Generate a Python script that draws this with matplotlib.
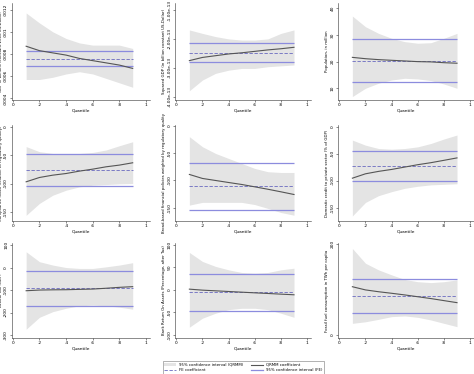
import numpy as np
import matplotlib
matplotlib.use("Agg")
import matplotlib.pyplot as plt
from matplotlib.patches import Patch
from matplotlib.lines import Line2D

# quantiles at which the QRMM model was estimated
quantiles = [0.1, 0.2, 0.3, 0.4, 0.5, 0.6, 0.7, 0.8, 0.9]

ylabels = [
    "GDP in billions (constant 2010 US-Dollar)",
    "Squared GDP (in billion constant US-Dollar)",
    "Population, in million",
    "Compliance index (relative to regulatory quality)",
    "Broad-based financial policies weighted by regulatory quality",
    "Domestic credit to private sector (% of GDP)",
    "Labour tax (GDP)",
    "Bank Return On Assets (Percentage, after Tax)",
    "Fossil fuel consumption in TWh per capita",
]

# QRMM coefficient and 95% band
qr_coef = [
    [.00087, .00083, .00081, .00079, .00076, .00074, .00072, .00070, .00067],
    [-2.75e-13, -2.64e-13, -2.58e-13, -2.52e-13, -2.48e-13, -2.43e-13, -2.38e-13, -2.34e-13, -2.29e-13],
    [21.6, 21.1, 20.75, 20.5, 20.25, 20.0, 19.9, 19.6, 19.4],
    [-97, -89.4, -85.3, -82.4, -78.2, -74.7, -70.6, -67.6, -63.5],
    [-89, -96.3, -100, -103.7, -107.3, -111.6, -116, -120.7, -125.6],
    [-95.6, -87.5, -83, -79.4, -75, -70.6, -66.9, -62.5, -58],
    [-103, -100, -99, -98.5, -97, -95.6, -92, -88, -85],
    [1.5, -0.7, -2.2, -3.7, -5.2, -6.7, -8.1, -9.6, -11],
    [106, 99, 95, 91.6, 88, 84, 80, 75.5, 71],
]
qr_hi = [
    [.00117, .00108, .00100, .00094, .00090, .00088, .00088, .00088, .00085],
    [-1.69e-13, -1.81e-13, -1.92e-13, -2.0e-13, -2.04e-13, -2.04e-13, -2.0e-13, -1.81e-13, -1.69e-13],
    [37.1, 33.1, 30.6, 28.75, 27.5, 26.9, 27.1, 28.75, 30.6],
    [-35, -44, -47, -47, -47, -45.3, -41, -33.5, -26.5],
    [-20, -38.4, -50.6, -59.8, -68.9, -78, -84, -85.4, -85.4],
    [-25, -34.4, -40.6, -41.9, -40.6, -37.5, -31.3, -23, -15.6],
    [70, 25.9, 11, 0, -4, -4, 3, 11, 21.5],
    [83, 63, 52, 44.4, 38.5, 37, 38.5, 44.4, 48],
    [190, 157.5, 143, 132, 122, 117, 115, 117, 121],
]
qr_lo = [
    [.00057, .00057, .00059, .00062, .00064, .00062, .00058, .00054, .00050],
    [-3.79e-13, -3.42e-13, -3.19e-13, -3.08e-13, -3.02e-13, -3.02e-13, -2.96e-13, -2.93e-13, -2.90e-13],
    [6.9, 10, 11.9, 13.1, 13.75, 13.5, 12.9, 11.6, 10],
    [-156, -135, -120.6, -111.8, -105.9, -103, -101.8, -100.6, -100],
    [-145, -140, -140, -140, -140, -144, -151, -158.5, -163.4],
    [-165.6, -140.6, -128, -120.6, -114.4, -110.6, -108, -107, -106],
    [-274, -221, -196, -181, -170, -167, -170, -176, -185],
    [-83, -63, -52, -44, -41, -41, -44, -52, -61],
    [25.6, 29, 34.4, 40.3, 41.8, 38.8, 33, 25.6, 18.3],
]

# fixed-effects coefficient and 95% interval
fe_coef = [.000753, -2.48e-13, 20.25, -76.5, -110.4, -73.75, -92.6, -4.4, 85.7]
fe_hi = [.00083, -2.13e-13, 28.4, -48.8, -67.7, -45.6, -14, 35.6, 122]
fe_lo = [.00069, -2.81e-13, 12.25, -104.7, -153.7, -100, -170, -46, 47.6]

yticks = [
    [.0004, .0006, .0008, .001, .0012],
    [-4e-13, -3e-13, -2e-13, -1e-13],
    [10, 20, 30, 40],
    [-150, -100, -50, 0],
    [-150, -100, -50, 0],
    [-150, -100, -50, 0],
    [-300, -200, -100, 0, 100],
    [-100, -50, 0, 50, 100],
    [0, 200],
]
yticklabels = [
    [".0004", ".0006", ".0008", ".001", ".0012"],
    ["-4.00e-13", "-3.00e-13", "-2.00e-13", "-1.00e-13"],
    ["10", "20", "30", "40"],
    ["-150", "-100", "-50", "0"],
    ["-150", "-100", "-50", "0"],
    ["-150", "-100", "-50", "0"],
    ["-300", "-200", "-100", "0", "100"],
    ["-100", "-50", "0", "50", "100"],
    ["0", "200"],
]
ylims = [
    (.000385, .00126), (-4.11e-13, -0.76e-13), (5.6, 42),
    (-166, 3), (-174, 1.3), (-175, 3),
    (-313, 109), (-107, 104), (-6.6, 202),
]

W, H = 474, 374
fig = plt.figure(figsize=(W / 100, H / 100), dpi=100)

col_x = [(11.5, 150), (175, 311), (338, 474)]
row_y = [(3, 100), (125, 221), (243, 338)]

band_col = "#e4e4e4"
qr_col = "#555555"
fe_col = "#6a6ac0"
fe_ci_col = "#8c8cde"
fs = 3.2

for i in range(9):
    r, c = divmod(i, 3)
    x0, x1 = col_x[c]
    y0, y1 = row_y[r]
    ax = fig.add_axes([x0 / W, 1 - y1 / H, (x1 - x0) / W, (y1 - y0) / H])
    ax.fill_between(quantiles, qr_lo[i], qr_hi[i], color=band_col, lw=0)
    for v in (fe_hi[i], fe_lo[i]):
        ax.plot([quantiles[0], quantiles[-1]], [v, v], color=fe_ci_col, lw=0.9,
                snap=True, solid_capstyle="butt")
    ax.plot([quantiles[0], quantiles[-1]], [fe_coef[i]] * 2, color=fe_col, lw=0.6, ls=(0, (4, 2)))
    ax.plot(quantiles, qr_coef[i], color=qr_col, lw=0.8)

    ax.set_xlim(-0.01, 1.03)
    ax.set_ylim(*ylims[i])
    ax.set_xticks([0, .2, .4, .6, .8, 1])
    ax.set_xticklabels(["0", ".2", ".4", ".6", ".8", "1"])
    ax.set_yticks(yticks[i])
    ax.set_yticklabels(yticklabels[i], rotation=90, va="center")
    ax.tick_params(labelsize=fs, length=1.5, width=0.4, pad=1, color="#333333")
    for s in ["top", "right"]:
        ax.spines[s].set_visible(False)
    for s in ["left", "bottom"]:
        ax.spines[s].set_linewidth(0.4)
        ax.spines[s].set_color("#333333")
    ax.set_xlabel("Quantile", fontsize=fs, labelpad=1)
    ax.set_ylabel(ylabels[i], fontsize=2.8, labelpad=1)

# column-major order so rows read: band | QRMM, FE | FE interval
handles = [
    Patch(facecolor=band_col, edgecolor="none"),
    Line2D([], [], color=fe_col, lw=0.6, ls=(0, (4, 2))),
    Line2D([], [], color=qr_col, lw=0.8),
    Line2D([], [], color=fe_ci_col, lw=0.9),
]
labels = [
    "95% confidence interval (QRMM)",
    "FE coefficient",
    "QRMM coefficient",
    "95% confidence interval (FE)",
]
leg = fig.legend(handles, labels, loc="center", bbox_to_anchor=(243.5 / W, 1 - 367.5 / H),
                 ncol=2, fontsize=2.8, frameon=True, fancybox=False, edgecolor="#555555",
                 borderpad=0.5, handlelength=3, columnspacing=2, labelspacing=0.3,
                 handleheight=0.6, handletextpad=0.8)
leg.get_frame().set_linewidth(0.4)

fig.savefig("out.png", dpi=100)
